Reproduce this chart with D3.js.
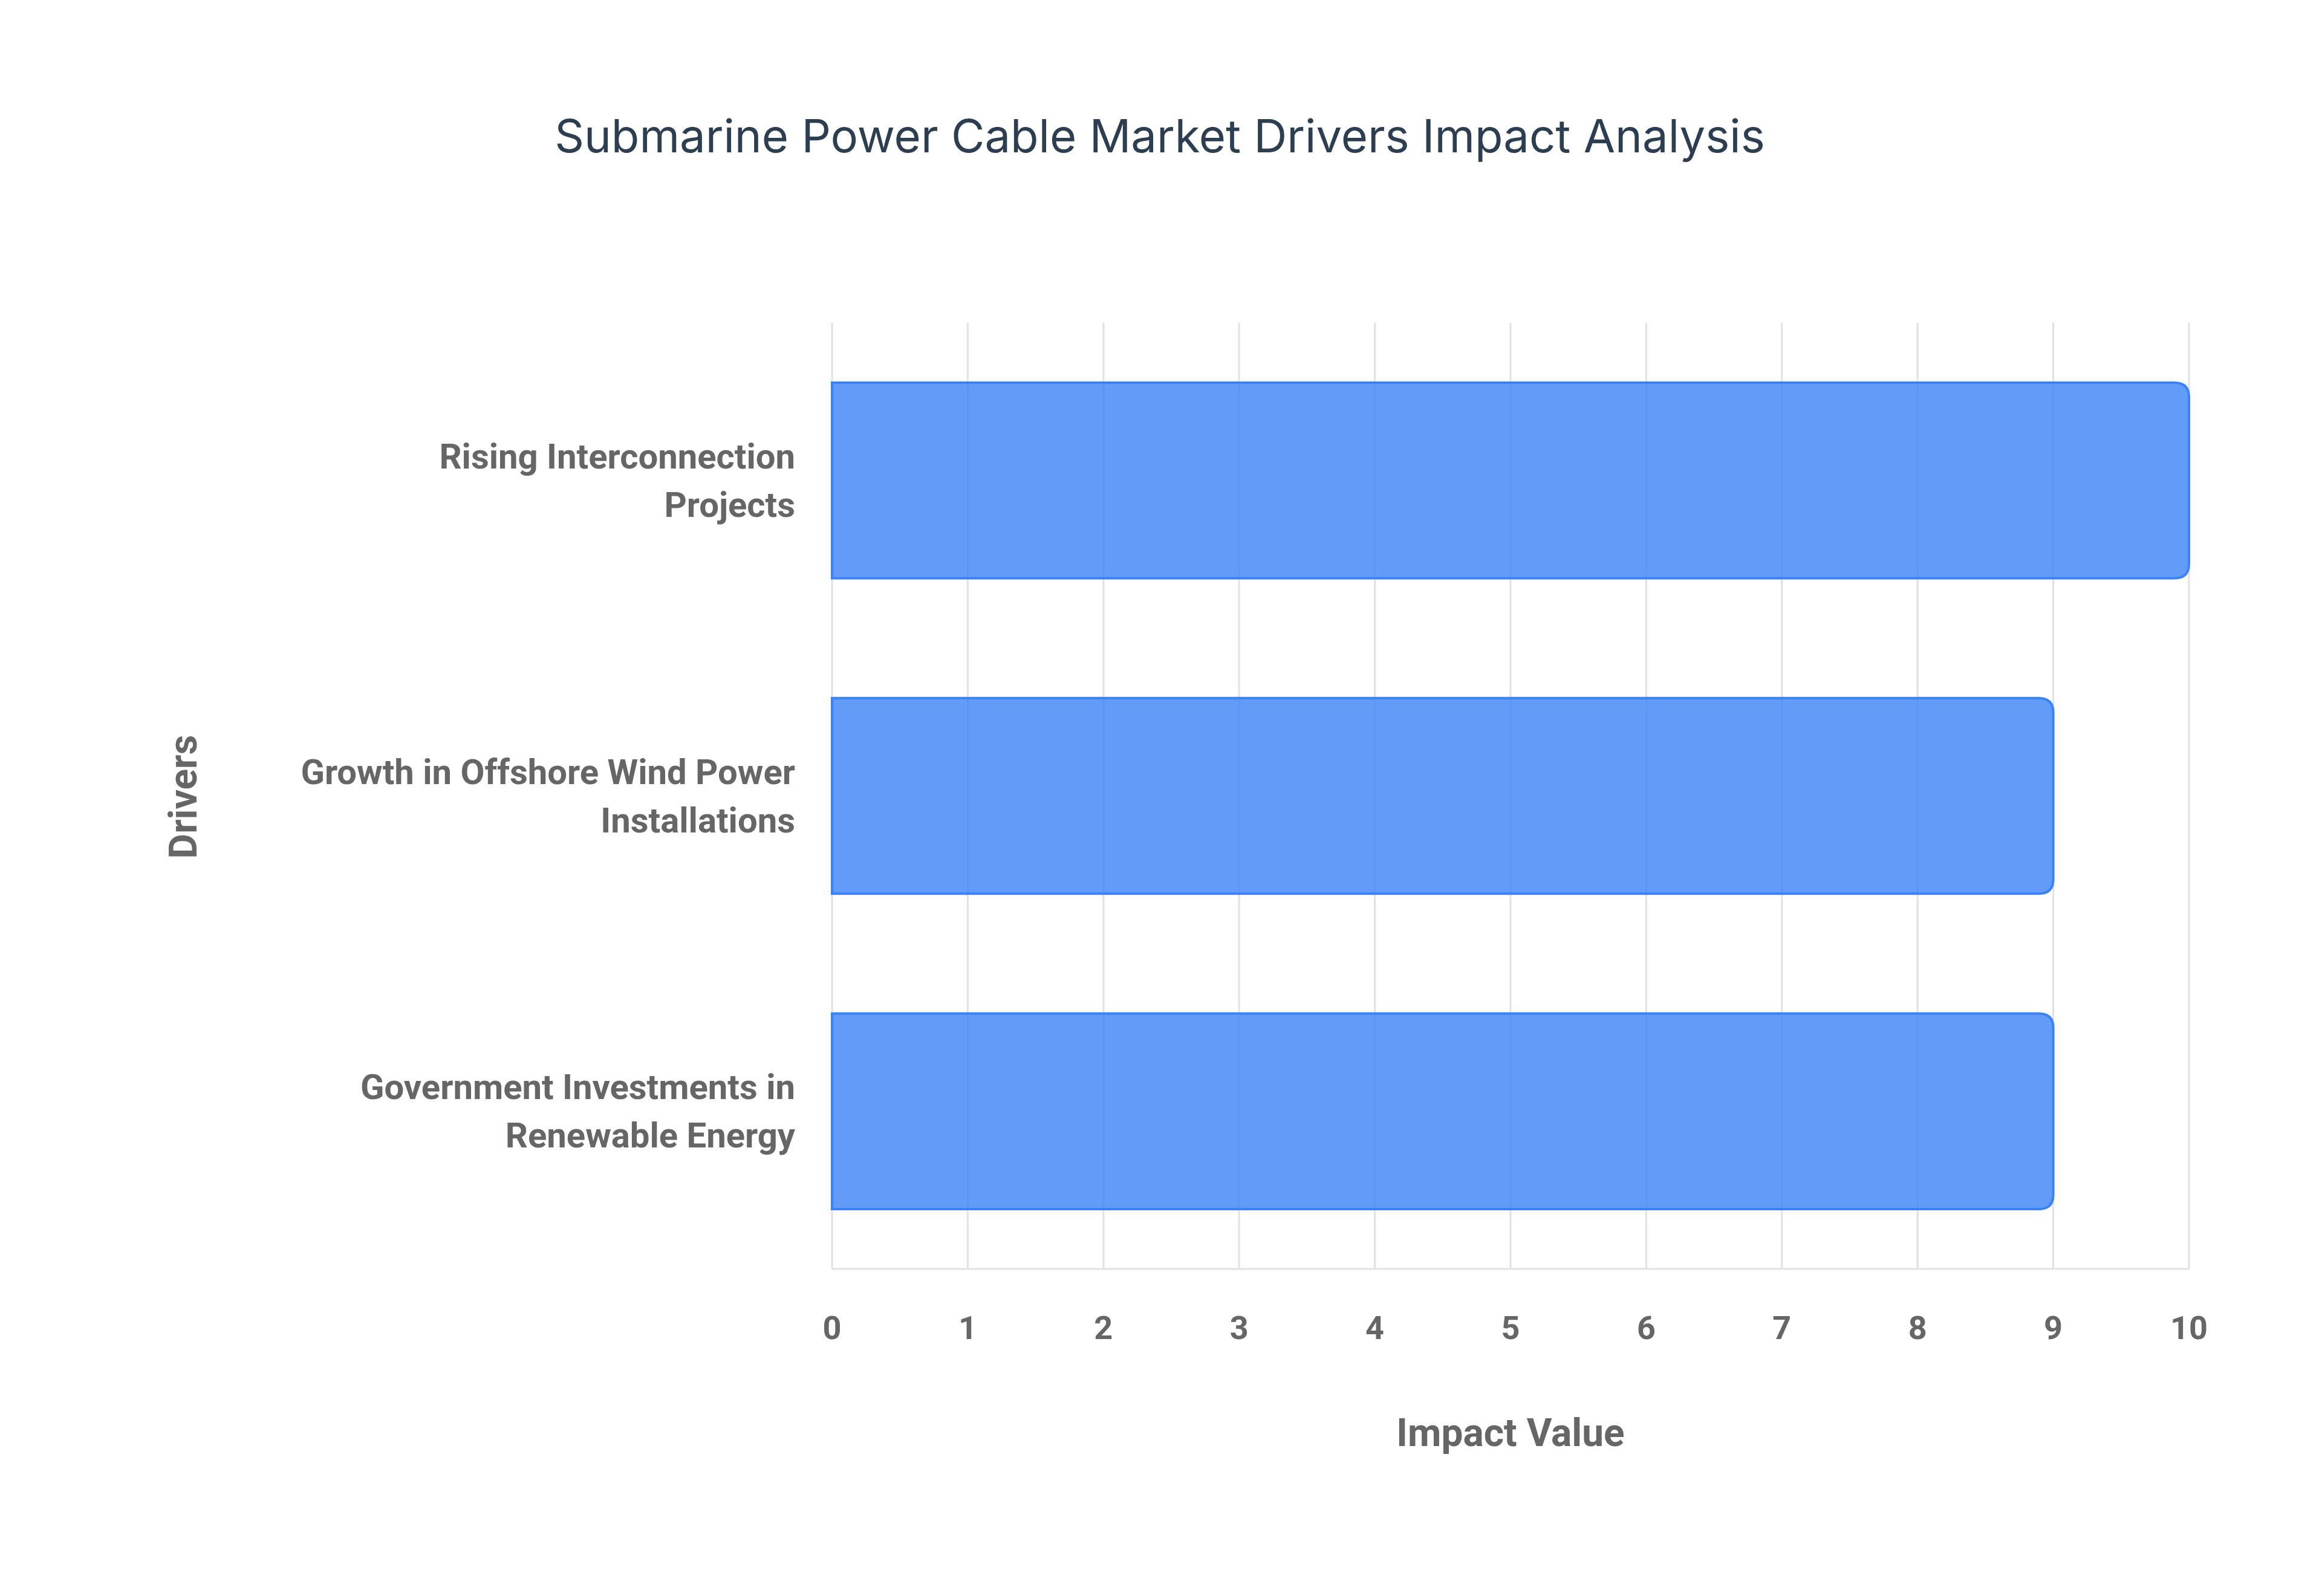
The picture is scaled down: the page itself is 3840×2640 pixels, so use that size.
<!DOCTYPE html>
<html><head><meta charset="utf-8">
<script src="https://cdn.jsdelivr.net/npm/d3@7"></script>
<style>body{margin:0;background:#fff}</style></head>
<body><svg id="c" width="3840" height="2640"></svg>
<script>
const categories = [["Rising Interconnection","Projects"],["Growth in Offshore Wind Power","Installations"],["Government Investments in","Renewable Energy"]];
const values = [10, 9, 9];
const ticks = [0,1,2,3,4,5,6,7,8,9,10];
const svg = d3.select("#c");
const L=1376,R=3620,T=534,B=2099;
const x=d3.scaleLinear().domain([0,10]).range([L,R]);
const y=d3.scaleBand().domain(d3.range(categories.length)).range([T,B]).paddingInner(0.38).paddingOuter(0.19);
const font="Roboto, 'Liberation Sans', sans-serif";
svg.append("text").attr("x",1918).attr("y",252).attr("text-anchor","middle").attr("font-family","Inter, 'Noto Sans', sans-serif").attr("font-size",76).attr("fill","#2c3e50").text("Submarine Power Cable Market Drivers Impact Analysis");
svg.selectAll(".g").data(ticks).enter().append("line").attr("x1",d=>x(d)).attr("x2",d=>x(d)).attr("y1",T).attr("y2",B).attr("stroke","#e2e2e2").attr("stroke-width",3);
svg.append("line").attr("x1",L).attr("x2",R).attr("y1",B).attr("y2",B).attr("stroke","#e2e2e2").attr("stroke-width",3);
const r=24;
svg.selectAll(".bar").data(values).enter().append("path").attr("d",(d,i)=>{
 const x0=x(0),x1=x(d),y0=y(i),y1=y(i)+y.bandwidth();
 return `M${x0},${y0}H${x1-r}Q${x1},${y0} ${x1},${y0+r}V${y1-r}Q${x1},${y1} ${x1-r},${y1}H${x0}Z`;
}).attr("fill","rgba(59,130,246,0.8)").attr("stroke","#3b82f6").attr("stroke-width",4);
svg.selectAll(".tl").data(ticks).enter().append("text").attr("x",d=>x(d)).attr("y",2215).attr("text-anchor","middle").attr("font-family",font).attr("font-weight","bold").attr("font-size",54).attr("fill","#666").text(d=>d);
const cl=svg.selectAll(".cl").data(categories).enter().append("text").attr("text-anchor","end").attr("font-family",font).attr("font-weight","bold").attr("font-size",58).attr("fill","#666");
cl.each(function(d,i){const c=y(i)+y.bandwidth()/2;d.forEach((s,j)=>d3.select(this).append("tspan").attr("x",1315).attr("y",c-20+j*80).text(s));});
svg.append("text").attr("x",2498).attr("y",2392).attr("text-anchor","middle").attr("font-family",font).attr("font-weight","bold").attr("font-size",64).attr("fill","#666").text("Impact Value");
svg.append("text").attr("transform","translate(325,1318) rotate(-90)").attr("text-anchor","middle").attr("font-family",font).attr("font-weight","bold").attr("font-size",64).attr("fill","#666").text("Drivers");
</script></body></html>
